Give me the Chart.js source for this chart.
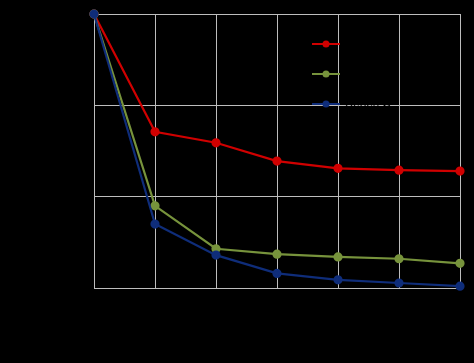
<!DOCTYPE html>
<html><head><meta charset="utf-8">
<script src="https://cdn.jsdelivr.net/npm/chart.js@4"></script>
<style>html,body{margin:0;padding:0;background:#000;}#w{width:474px;height:363px;}</style>
</head><body><div id="w"><canvas id="c"></canvas></div>
<script>
const categories = ['0','1','2','3','4','5','6'];
const seriesA = [3.0, 1.71, 1.59, 1.39, 1.31, 1.29, 1.28];
const seriesB = [3.0, 0.90, 0.43, 0.37, 0.34, 0.32, 0.27];
const seriesC = [3.0, 0.70, 0.36, 0.16, 0.09, 0.055, 0.02];
const labels = ['Series A','Series B','Series C'];
const colors = ['#d00000','#77933c','#0f2d7a'];
const yTicks = [0,1,2,3];

const legendPlugin = {
  id:'insideLegend',
  afterDraw(chart){
    const ctx = chart.ctx;
    chart.data.datasets.forEach((ds,i)=>{
      const y = 44 + i*30;
      ctx.save();
      ctx.strokeStyle = ds.borderColor; ctx.lineWidth = 2;
      ctx.beginPath(); ctx.moveTo(312,y); ctx.lineTo(340,y); ctx.stroke();
      ctx.fillStyle = ds.borderColor;
      ctx.beginPath(); ctx.arc(326,y,3.5,0,Math.PI*2); ctx.fill();
      ctx.fillStyle = '#000'; ctx.font = '12px Arial, "Liberation Sans"';
      ctx.textBaseline = 'middle';
      ctx.fillText(ds.label, 345, y);
      ctx.restore();
    });
  }
};

new Chart(document.getElementById('c'), {
  type:'line',
  data:{labels:categories, datasets:[
    {label:labels[0], data:seriesA, borderColor:colors[0], backgroundColor:colors[0], order:2},
    {label:labels[1], data:seriesB, borderColor:colors[1], backgroundColor:colors[1], order:1},
    {label:labels[2], data:seriesC, borderColor:colors[2], backgroundColor:colors[2], order:0}
  ].map(d=>Object.assign(d,{borderWidth:2.2,pointRadius:3.5,pointHoverRadius:3.5,tension:0,clip:false}))},
  options:{
    responsive:true, maintainAspectRatio:false, animation:false,
    layout:{padding:{top:14,right:14,left:0,bottom:0}},
    plugins:{legend:{display:false},tooltip:{enabled:false}},
    scales:{
      x:{offset:false, grid:{color:'#bdbdbd',lineWidth:1,drawTicks:false}, border:{color:'#bdbdbd'},
         ticks:{color:'#000',padding:6,font:{size:12}},
         title:{display:true,text:'x',color:'#000'},
         afterFit(s){s.height=75;}},
      y:{min:0,max:3, grid:{color:'#bdbdbd',lineWidth:1,drawTicks:false}, border:{color:'#bdbdbd'},
         afterBuildTicks(s){s.ticks=yTicks.map(v=>({value:v}));},
         ticks:{color:'#000',padding:6,font:{size:12}},
         title:{display:true,text:'y',color:'#000'},
         afterFit(s){s.width=94;}}
    }
  },
  plugins:[legendPlugin]
});
</script></body></html>
